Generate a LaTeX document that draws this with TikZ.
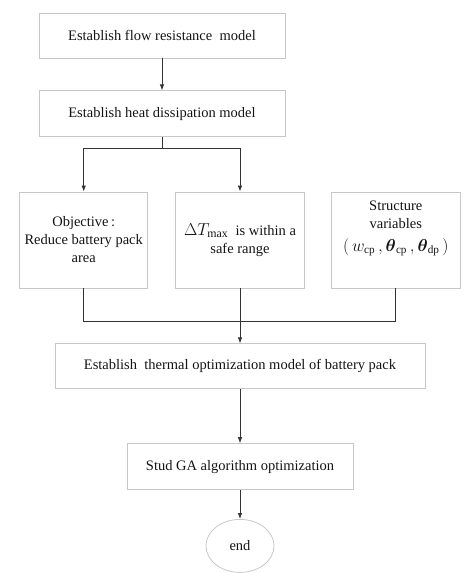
\documentclass[tikz,border=0pt]{standalone}
\usepackage{amsmath}
\usepackage{xcolor}
\usepackage{fontspec}
\setmainfont{Liberation Serif}
\usepackage{tikz}
\usetikzlibrary{shapes,positioning,arrows.meta}
\tikzset{>={Latex[length=6pt,width=4.5pt]}}

\begin{document}
\begin{tikzpicture}[
squarednode/.style={rectangle, draw=black!22, line width=0.8pt, align=center, text=black!92, font=\fontsize{14.5}{18}\selectfont},
roundnode/.style={ellipse, draw=black!22, line width=0.8pt, text=black!92, font=\fontsize{14.5}{18}\selectfont, minimum width=68pt, minimum height=53pt},
flowline/.style={draw=black!80, line width=0.8pt},
]
\useasboundingbox (0,0) rectangle (474pt,-584pt);
%Nodes
\node[squarednode, minimum width=246pt, minimum height=45pt](Flow resistance model) at (162pt,-35.5pt){Establish flow resistance\ \ model};
\node[squarednode, minimum width=246pt, minimum height=46pt](Heat dissipation model)[below=32pt of Flow resistance model]{Establish heat dissipation model};

\node[squarednode, minimum width=129pt, minimum height=96pt](Temperature range) at (240pt,-240pt){{\fontsize{17}{18}\selectfont$\Delta T_{\mathrm{max}}$}\ \ is within a\\safe range};
\node[squarednode, minimum width=128pt, minimum height=96pt](Objective)[left=27pt of Temperature range]{Objective\,:\\Reduce battery pack\\area};
\node[squarednode, minimum width=129pt, minimum height=96pt](Structure variables)[right=26pt of Temperature range]{Structure\\variables\\[5pt]{\fontsize{16}{18}\selectfont$(\,w_{\mathrm{cp}}\,,\boldsymbol{\theta}_{\mathrm{cp}}\,,\boldsymbol{\theta}_{\mathrm{dp}}\,)$}\\[10pt]};

\node[squarednode, minimum width=370pt, minimum height=45pt](Thermal optimization model)[below=55pt of Temperature range]{Establish\ \ thermal optimization model of battery pack};
\node[squarednode, minimum width=226pt, minimum height=46pt](GA optimization)[below=54pt of Thermal optimization model]{Stud GA algorithm optimization};
\node[roundnode](End)[below=29pt of GA optimization]{end};

%Lines
\draw[flowline, ->] (Flow resistance model) -- (Heat dissipation model);
\draw[flowline] (Heat dissipation model.south) -- ++(0,-11pt) coordinate (Split);
\draw[flowline, ->] (Split) -| (Objective.north);
\draw[flowline, ->] (Split) -| (Temperature range.north);

\draw[flowline] (Objective.south) -- ++(0,-33pt) -| (Structure variables.south);
\draw[flowline, ->] (Temperature range) -- (Thermal optimization model);

\draw[flowline, ->] (Thermal optimization model) -- (GA optimization);
\draw[flowline, ->] (GA optimization) -- (End);
\end{tikzpicture}
\end{document}
